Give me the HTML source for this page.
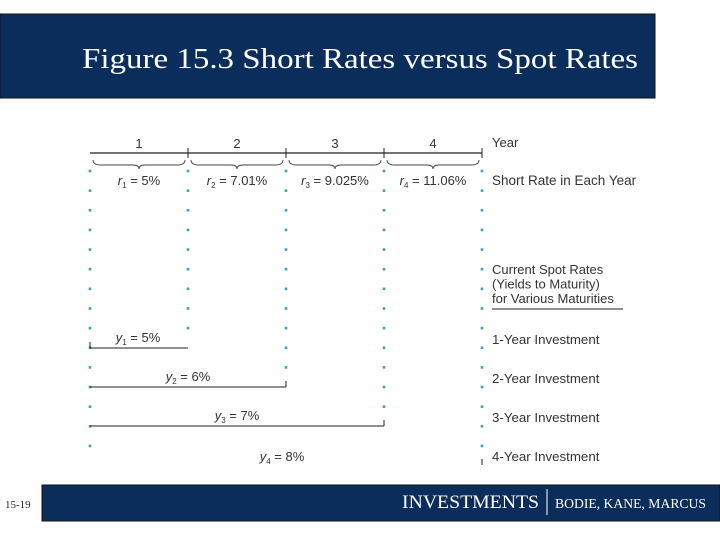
<!DOCTYPE html>
<html><head><meta charset="utf-8"><style>
html,body{margin:0;padding:0;background:#fff;}
svg{display:block;}
</style></head><body>
<svg id="chart" width="720" height="540" viewBox="0 0 720 540" xmlns="http://www.w3.org/2000/svg">
<rect x="0" y="14" width="655" height="84" fill="#0b2d5c" stroke="#111" stroke-width="1"/>
<text x="82" y="68" fill="#fff" font-family="Liberation Serif, serif" font-size="29" textLength="556" lengthAdjust="spacingAndGlyphs">Figure 15.3 Short Rates versus Spot Rates</text>
<rect x="42" y="485" width="678" height="36" fill="#0b2d5c" stroke="#111" stroke-width="1"/>
<text x="5" y="508" fill="#222" font-family="Liberation Serif, serif" font-size="11">15-19</text>
<text x="402" y="508" fill="#fff" font-family="Liberation Serif, serif" font-size="19" textLength="137" lengthAdjust="spacingAndGlyphs">INVESTMENTS</text>
<line x1="547" y1="489" x2="547" y2="515" stroke="#fff" stroke-width="1"/>
<text x="555" y="508" fill="#fff" font-family="Liberation Serif, serif" font-size="14" textLength="151" lengthAdjust="spacingAndGlyphs">BODIE, KANE, MARCUS</text>
<g id="plot"></g>
</svg>
<script>
const years = ["1","2","3","4"];
const shortRateNames = ["1","2","3","4"];
const shortRates = ["5%","7.01%","9.025%","11.06%"];
const spotRates = ["5%","6%","7%","8%"];
const rightLabels = ["1-Year Investment","2-Year Investment","3-Year Investment","4-Year Investment"];

const NS="http://www.w3.org/2000/svg";
const g=document.getElementById('plot');
const x0=90, colW=98, rowH=19.64, dotY0=171;
const xCol=i=>x0+i*colW;
const yRow=r=>dotY0+r*rowH;
const FF='"Liberation Sans", "DejaVu Sans", sans-serif';
function mk(tag,attrs,txt){const e=document.createElementNS(NS,tag);for(const k in attrs)e.setAttribute(k,attrs[k]);if(txt!==undefined)e.textContent=txt;g.appendChild(e);return e;}

let e=mk('line',{x1:xCol(0),y1:153,x2:xCol(years.length),y2:153,stroke:'#222','stroke-width':1.2});


years.forEach((y,i)=>{
  let t=mk('line',{x1:xCol(i+1),y1:148,x2:xCol(i+1),y2:158,stroke:'#222','stroke-width':1});
  
  
  let l=mk('text',{x:xCol(i)+colW/2,y:148,'text-anchor':'middle','font-family':FF,'font-size':13,fill:'#333'},y);
  
  
  const a=xCol(i)+3,b=xCol(i+1)-3,m=(a+b)/2;
  let br=mk('path',{d:`M${a},160 Q${a},165 ${a+8},165 L${m-6},165 Q${m},165 ${m},169 Q${m},165 ${m+6},165 L${b-8},165 Q${b},165 ${b},160`,fill:'none',stroke:'#444','stroke-width':0.9});
  
  
  let r=mk('text',{x:m,y:185,'text-anchor':'middle','font-family':FF,'font-size':13,fill:'#333'});
  
  
  r.innerHTML=`<tspan font-style="italic">r</tspan><tspan font-size="8" dy="3">${shortRateNames[i]}</tspan><tspan dy="-3"> = ${shortRates[i]}</tspan>`;
});
let yl=mk('text',{x:492,y:147,'font-family':FF,'font-size':13,fill:'#333'},'Year');



const lastRow=[14,8,10,12,14];
lastRow.forEach((lr,c)=>{
  for(let r=0;r<=lr;r++){
    let d=mk('rect',{x:xCol(c)-1.3,y:yRow(r)-1.3,width:2.6,height:2.6,fill:'#3a9fc0'});
    
    
  }
});

spotRates.forEach((s,i)=>{
  const ly=348+i*39;
  if(i<3){
    let ln=mk('line',{x1:xCol(0),y1:ly,x2:xCol(i+1),y2:ly,stroke:'#222','stroke-width':1.1});
    
    
    const tx=i===0?xCol(0):xCol(i+1);
    let tk=mk('line',{x1:tx,y1:ly-6,x2:tx,y2:ly,stroke:'#222','stroke-width':1});
    
    
  }
  const cx=i===0?138:(xCol(0)+xCol(i+1))/2+(i===3?-4:0);
  let t=mk('text',{x:cx,y:ly-6+(i===3?2:0),'text-anchor':'middle','font-family':FF,'font-size':13,fill:'#333'});
  
  
  t.innerHTML=`<tspan font-style="italic">y</tspan><tspan font-size="8" dy="3">${i+1}</tspan><tspan dy="-3"> = ${s}</tspan>`;
  let rl=mk('text',{x:492,y:344+i*39,'font-family':FF,'font-size':13.3,fill:'#333'},rightLabels[i]);
  
  
});
let tk4=mk('line',{x1:482,y1:459,x2:482,y2:465,stroke:'#222','stroke-width':1});



let sr=mk('text',{x:492,y:185,'font-family':FF,'font-size':13.5,fill:'#333'},'Short Rate in Each Year');


['Current Spot Rates','(Yields to Maturity)','for Various Maturities'].forEach((s,i)=>{
  let t=mk('text',{x:492,y:274+i*14.5,'font-family':FF,'font-size':13,fill:'#333'},s);
  
  
});
let ul=mk('line',{x1:492,y1:309,x2:623,y2:309,stroke:'#222','stroke-width':1});


</script>
</body></html>
